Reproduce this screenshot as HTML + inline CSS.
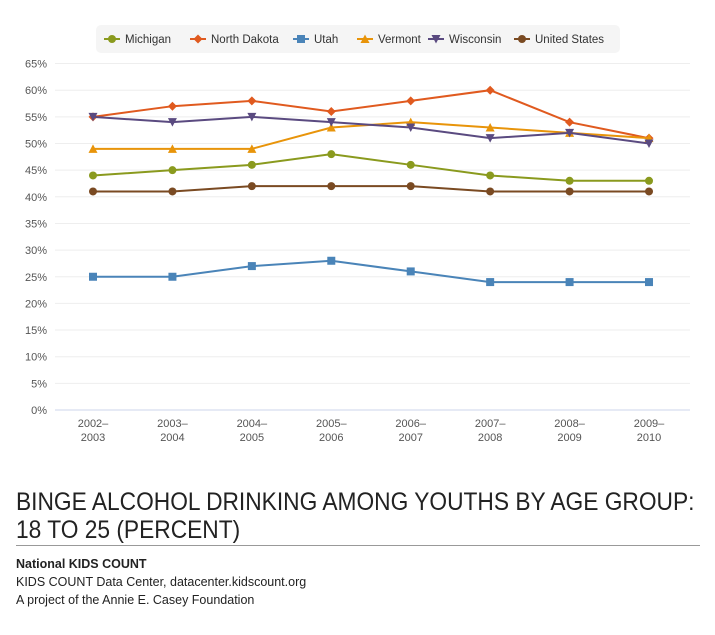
<!DOCTYPE html>
<html><head><meta charset="utf-8"><style>
body{margin:0;background:#fff;width:715px;height:635px;overflow:hidden;font-family:"Liberation Sans",sans-serif}
svg text{font-family:"Liberation Sans",sans-serif}
#title{position:absolute;left:16px;top:488px;font-size:25px;color:#222;line-height:28px;white-space:nowrap;transform:scaleX(0.91);transform-origin:0 0}
#rule{position:absolute;left:16px;top:545px;width:684px;height:1px;background:#999}
#src{position:absolute;left:16px;top:555px;font-size:12.5px;color:#222;line-height:18px}
</style></head><body>
<svg id="chart" width="715" height="470" style="position:absolute;left:0;top:0"></svg>
<div id="title">BINGE ALCOHOL DRINKING AMONG YOUTHS BY AGE GROUP:<br>18 TO 25 (PERCENT)</div>
<div id="rule"></div>
<div id="src"><b>National KIDS COUNT</b><br>KIDS COUNT Data Center, datacenter.kidscount.org<br>A project of the Annie E. Casey Foundation</div>
<script>
const categories=[["2002–","2003"],["2003–","2004"],["2004–","2005"],["2005–","2006"],["2006–","2007"],["2007–","2008"],["2008–","2009"],["2009–","2010"]];
const seriesNames=["Michigan","North Dakota","Utah","Vermont","Wisconsin","United States"];
const michigan=[44,45,46,48,46,44,43,43];
const northDakota=[55,57,58,56,58,60,54,51];
const utah=[25,25,27,28,26,24,24,24];
const vermont=[49,49,49,53,54,53,52,51];
const wisconsin=[55,54,55,54,53,51,52,50];
const unitedStates=[41,41,42,42,42,41,41,41];
const yTicks=[0,5,10,15,20,25,30,35,40,45,50,55,60,65];
const colors=["#8a9a1e","#e05a1f","#4a84b8","#e8940a","#5a4a80","#7a4a22"];
const markers=["circle","diamond","square","triangle","tridown","circle"];
const allSeries=[michigan,northDakota,utah,vermont,wisconsin,unitedStates];
const svg=document.getElementById('chart');const NS="http://www.w3.org/2000/svg";
function mk(t,a,p){const e=document.createElementNS(NS,t);for(const k in a)e.setAttribute(k,a[k]);(p||svg).appendChild(e);return e;}
const x=i=>93+i*79.43, y=v=>410-v*5.33;
yTicks.forEach(v=>{
 const l=mk('line',{x1:55,x2:690,y1:y(v),y2:y(v),stroke:v==0?'#ccd6eb':'#eeeeee'});
 
 
 const t=mk('text',{x:47,y:y(v)+4,'text-anchor':'end','font-size':11,fill:'#555'});t.textContent=v+'%';
 
 
});
categories.forEach((c,i)=>{
 const t=mk('text',{x:x(i),y:427,'text-anchor':'middle','font-size':11,fill:'#555'});
 
 
 const a=mk('tspan',{x:x(i)},t);a.textContent=c[0];const b=mk('tspan',{x:x(i),dy:14},t);b.textContent=c[1];
});
function marker(type,cx,cy,col,g){
 if(type=='circle')return mk('circle',{cx,cy,r:4,fill:col},g);
 if(type=='square')return mk('rect',{x:cx-4,y:cy-4,width:8,height:8,fill:col},g);
 if(type=='diamond')return mk('path',{d:`M${cx} ${cy-4.5}L${cx+4.5} ${cy}L${cx} ${cy+4.5}L${cx-4.5} ${cy}Z`,fill:col},g);
 if(type=='triangle')return mk('path',{d:`M${cx} ${cy-4.5}L${cx+4.5} ${cy+4}L${cx-4.5} ${cy+4}Z`,fill:col},g);
 return mk('path',{d:`M${cx} ${cy+4.5}L${cx+4.5} ${cy-4}L${cx-4.5} ${cy-4}Z`,fill:col},g);
}
allSeries.forEach((s,k)=>{
 const g=mk('g',{});
 
 
 mk('path',{d:s.map((v,i)=>(i?'L':'M')+x(i)+' '+y(v)).join(''),fill:'none',stroke:colors[k],'stroke-width':2},g);
 s.forEach((v,i)=>{const m=marker(markers[k],x(i),y(v),colors[k],g);
  
  });
});
const lg=mk('g',{});


mk('rect',{x:96,y:25,width:524,height:28,rx:5,fill:'#f5f5f5'},lg);
const lx=[104,190,293,357,428,514];
seriesNames.forEach((n,k)=>{
 const e=mk('g',{},lg);
 
 
 mk('line',{x1:lx[k],x2:lx[k]+16,y1:39,y2:39,stroke:colors[k],'stroke-width':2},e);
 marker(markers[k],lx[k]+8,39,colors[k],e);
 const t=mk('text',{x:lx[k]+21,y:43,'font-size':11.5,fill:'#333'},e);t.textContent=n;
});
</script>
</body></html>
